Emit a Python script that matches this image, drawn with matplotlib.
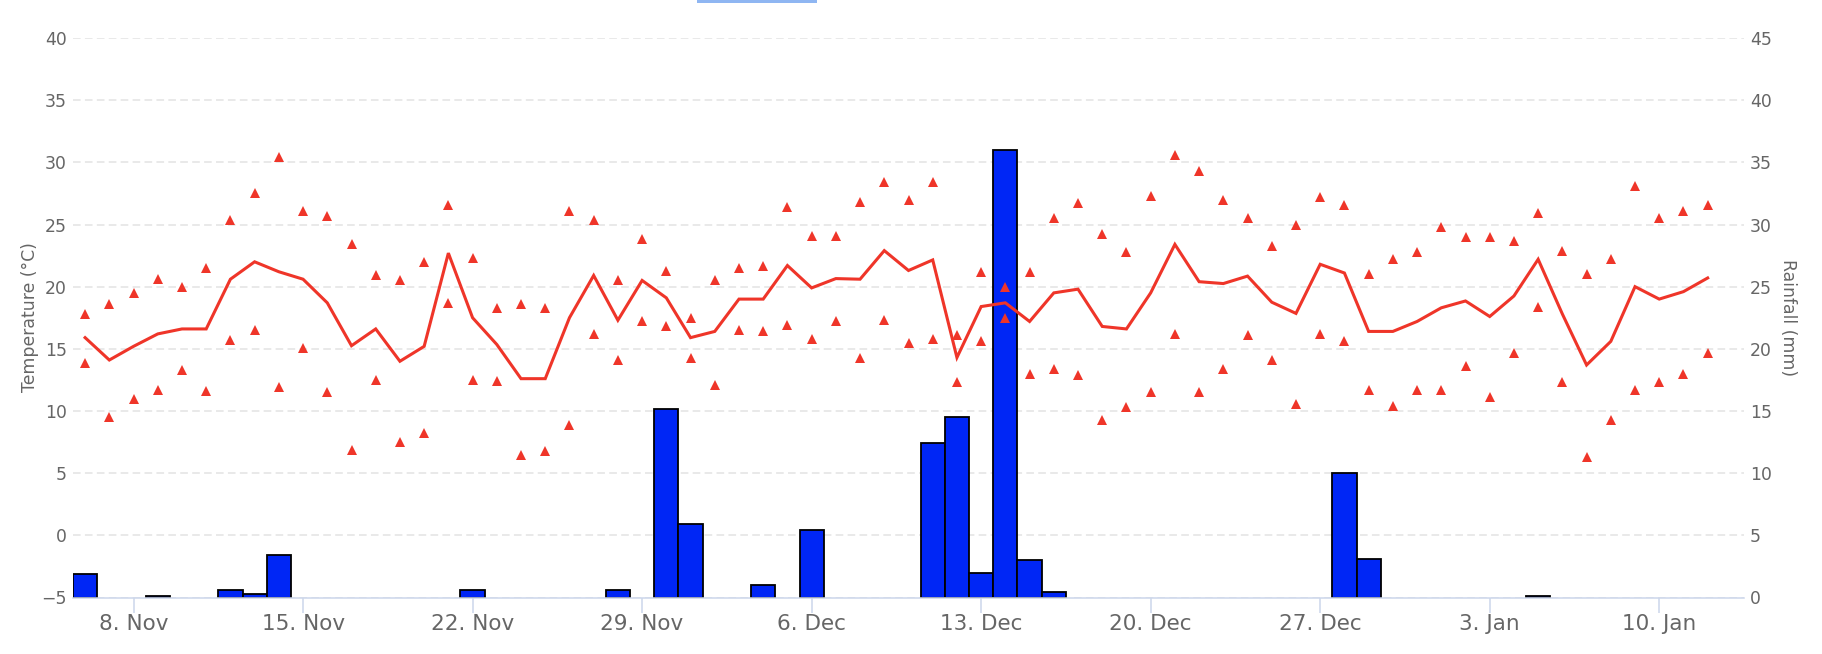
import numpy as np
import pandas as pd
import matplotlib
matplotlib.use("Agg")
import matplotlib.pyplot as plt
import matplotlib.dates as mdates
from matplotlib.patches import Rectangle

# ---------------- data ----------------
dates = pd.date_range("2020-11-06", "2021-01-12", freq="D")

temp_max = [17.8, 18.6, 19.5, 20.6, 20.0, 21.5, 25.4, 27.5, 30.4, 26.1,
            25.7, 23.4, 20.9, 20.5, 22.0, 26.6, 22.3, 18.3, 18.6, 18.3,
            26.1, 25.4, 20.5, 23.8, 21.3, 17.5, 20.5, 21.5, 21.7, 26.4,
            24.1, 24.1, 26.8, 28.4, 27.0, 28.4, 16.1, 21.2, 20.0, 21.2,
            25.5, 26.7, 24.2, 22.8, 27.3, 30.6, 29.3, 27.0, 25.5, 23.3,
            25.0, 27.2, 26.6, 21.0, 22.2, 22.8, 24.8, 24.0, 24.0, 23.7,
            25.9, 22.9, 21.0, 22.2, 28.1, 25.5, 26.1, 26.6]

temp_min = [13.9, 9.5, 11.0, 11.7, 13.3, 11.6, 15.7, 16.5, 11.9, 15.1,
            11.5, 6.9, 12.5, 7.5, 8.2, 18.7, 12.5, 12.4, 6.5, 6.8,
            8.9, 16.2, 14.1, 17.2, 16.8, 14.3, 12.1, 16.5, 16.4, 16.9,
            15.8, 17.2, 14.3, 17.3, 15.5, 15.8, 12.3, 15.6, 17.5, 13.0,
            13.4, 12.9, 9.3, 10.3, 11.5, 16.2, 11.5, 13.4, 16.1, 14.1,
            10.6, 16.2, 15.6, 11.7, 10.4, 11.7, 11.7, 13.6, 11.1, 14.7,
            18.4, 12.3, 6.3, 9.3, 11.7, 12.3, 13.0, 14.7]

temp_avg = [15.9, 14.1, 15.2, 16.2, 16.6, 16.6, 20.6, 22.0, 21.2, 20.6,
            18.7, 15.25, 16.6, 14.0, 15.2, 22.7, 17.5, 15.35, 12.6, 12.6,
            17.5, 20.9, 17.3, 20.5, 19.1, 15.9, 16.4, 19.0, 19.0, 21.7,
            19.9, 20.65, 20.6, 22.9, 21.3, 22.15, 14.3, 18.4, 18.7, 17.2,
            19.5, 19.8, 16.8, 16.6, 19.5, 23.4, 20.4, 20.25, 20.85, 18.75,
            17.85, 21.8, 21.1, 16.4, 16.4, 17.2, 18.3, 18.85, 17.6, 19.25,
            22.2, 17.8, 13.7, 15.6, 20.0, 19.0, 19.6, 20.7]

rainfall = [1.9, 0, 0, 0.1, 0, 0, 0.6, 0.25, 3.4, 0,
            0, 0, 0, 0, 0, 0, 0.6, 0, 0, 0,
            0, 0, 0.6, 0, 15.2, 5.9, 0, 0, 1.0, 0,
            5.4, 0, 0, 0, 0, 12.4, 14.5, 2.0, 36.0, 3.0,
            0.45, 0, 0, 0, 0, 0, 0, 0, 0, 0,
            0, 0, 10.0, 3.1, 0, 0, 0, 0, 0, 0,
            0.1, 0, 0, 0, 0, 0, 0, 0]

tick_dates = ["2020-11-08", "2020-11-15", "2020-11-22", "2020-11-29",
              "2020-12-06", "2020-12-13", "2020-12-20", "2020-12-27",
              "2021-01-03", "2021-01-10"]
tick_labels = ["8. Nov", "15. Nov", "22. Nov", "29. Nov", "6. Dec",
               "13. Dec", "20. Dec", "27. Dec", "3. Jan", "10. Jan"]
temp_ticks = [-5, 0, 5, 10, 15, 20, 25, 30, 35, 40]
rain_ticks = [0, 5, 10, 15, 20, 25, 30, 35, 40, 45]

# ---------------- styling ----------------
RED = "#ef3529"
BLUE = "#0026f5"
GRID = "#e3e3e3"
AXIS = "#ccd6eb"
TXT = "#666666"

W, H = 1822, 654
fig = plt.figure(figsize=(W / 100, H / 100), dpi=100)
fig.patch.set_facecolor("white")

left, right, top, bottom = 73, 1744, 38, 597.5
rect = [left / W, 1 - bottom / H, (right - left) / W, (bottom - top) / H]

# rainfall axis (behind)
ax2 = fig.add_axes(rect)
# temperature axis (front)
ax = fig.add_axes(rect, sharex=ax2)
ax.set_zorder(ax2.get_zorder() + 1)
ax.patch.set_visible(False)

x = mdates.date2num(dates)
rain = np.array(rainfall)
nz = rain > 0

ax2.set_axisbelow(True)
ax2.bar(x[nz], rain[nz], width=1.0, align="center", color=BLUE,
        edgecolor="black", linewidth=1.3, zorder=2)
ax2.set_ylim(0, 45)
ax2.set_yticks(rain_ticks)
ax2.yaxis.tick_right()
ax2.yaxis.set_label_position("right")
ax2.grid(axis="y", color=GRID, linestyle=(0, (5, 2.8)), linewidth=1.1)
ax2.grid(axis="x", visible=False)
ax2.tick_params(axis="y", length=0, pad=4.3, labelsize=12.4, labelcolor=TXT)
ax2.tick_params(axis="x", length=0, labelbottom=False)
for s in ax2.spines.values():
    s.set_visible(False)

ax.plot(x, temp_avg, color=RED, linewidth=2.2, zorder=3,
        solid_joinstyle="miter")
ax.plot(x, temp_max, linestyle="none", marker="^", markersize=6.6,
        color=RED, markeredgewidth=0, zorder=4)
ax.plot(x, temp_min, linestyle="none", marker="^", markersize=6.6,
        color=RED, markeredgewidth=0, zorder=4)
ax.set_ylim(-5, 40)
ax.set_yticks(temp_ticks)
ax.tick_params(axis="y", length=0, pad=4.3, labelsize=12.4, labelcolor=TXT)

ax.set_xlim(x[0] - 0.5, x[-1] + 1.5)
ax.set_xticks(mdates.date2num(pd.to_datetime(tick_dates)))
ax.set_xticklabels(tick_labels)
ax.tick_params(axis="x", direction="out", length=11, width=1.1,
               color=AXIS, pad=0.8, labelsize=15.5, labelcolor=TXT)
for name, s in ax.spines.items():
    if name == "bottom":
        s.set_color(AXIS)
        s.set_linewidth(1.1)
    else:
        s.set_visible(False)

fig.text(29.7 / W, 1 - 317.5 / H, "Temperature (°C)", rotation=90,
         ha="center", va="center", fontsize=12.4, color=TXT)
fig.text(1788 / W, 1 - 317.5 / H, "Rainfall (mm)", rotation=270,
         ha="center", va="center", fontsize=12.4, color=TXT)

# small light-blue strip cut off at the very top
fig.patches.append(Rectangle((697 / W, 1 - 2.5 / H), 120 / W, 2.5 / H,
                             transform=fig.transFigure, color="#8fb6f2",
                             linewidth=0))

fig.savefig("out.png", dpi=100, facecolor="white")
